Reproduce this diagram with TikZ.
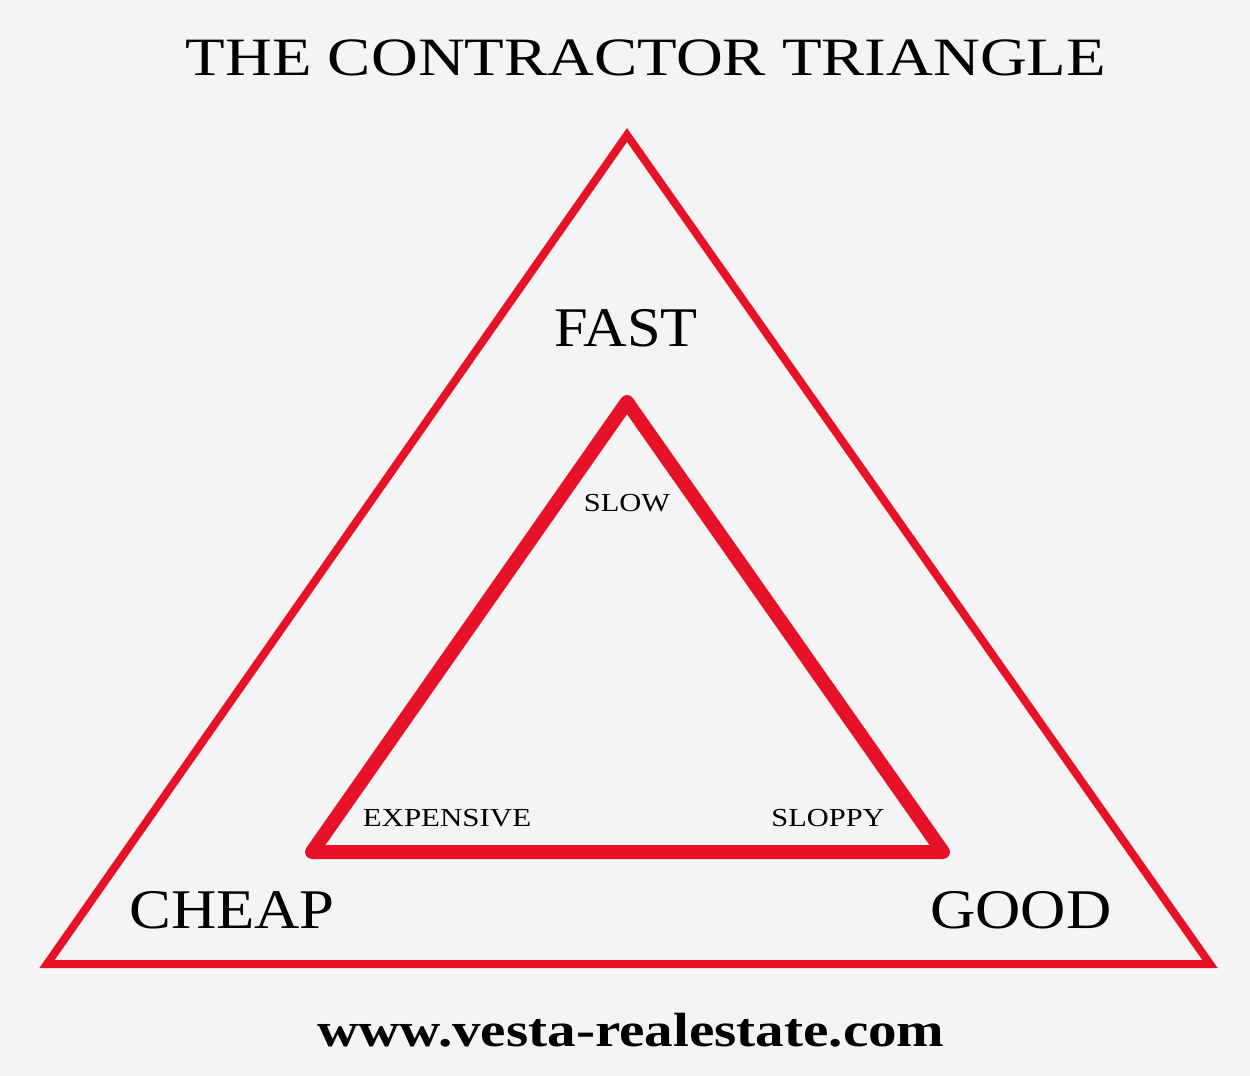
\documentclass[tikz,border=0pt]{standalone}
\usepackage{fontspec}
\setmainfont{Liberation Serif}
\definecolor{bg}{RGB}{245,244,244}
\definecolor{tri}{RGB}{232,18,40}
\begin{document}
\begin{tikzpicture}[x=1pt,y=-1pt,
  lbl/.style={inner sep=0pt,anchor=center}]
\fill[bg] (0,0) rectangle (1250,1076);
\useasboundingbox (0,0) rectangle (1250,1076);
\coordinate (oa) at (627,135);
\coordinate (ob) at (47,964);
\coordinate (oc) at (1210,964);
\coordinate (ia) at (627,402);
\coordinate (ib) at (312,852);
\coordinate (ic) at (943,852);
\draw[tri,line width=8pt,line join=miter] (oa)--(ob)--(oc)--cycle;
\draw[tri,line width=14pt,line join=round] (ia)--(ib)--(ic)--cycle;
\node[lbl,xscale=1.2,font=\fontsize{54}{60}\selectfont] (title) at (646,58) {THE CONTRACTOR TRIANGLE};
\node[lbl,xscale=1.08,font=\fontsize{56}{64}\selectfont] (fast) at (626,328) {FAST};
\node[lbl,xscale=1.12,font=\fontsize{56}{64}\selectfont] (cheap) at (232,910) {CHEAP};
\node[lbl,xscale=1.12,font=\fontsize{56}{64}\selectfont] (good) at (1021,910) {GOOD};
\node[lbl,xscale=1.17,font=\fontsize{26}{30}\selectfont] (slow) at (627,503) {SLOW};
\node[lbl,xscale=1.19,font=\fontsize{26}{30}\selectfont] (exp) at (447,818) {EXPENSIVE};
\node[lbl,xscale=1.17,font=\fontsize{26}{30}\selectfont] (slop) at (828,818) {SLOPPY};
\node[lbl,xscale=1.19,font=\bfseries\fontsize{48}{56}\selectfont] (url) at (631,1030) {www.vesta-realestate.com};
\end{tikzpicture}
\end{document}
